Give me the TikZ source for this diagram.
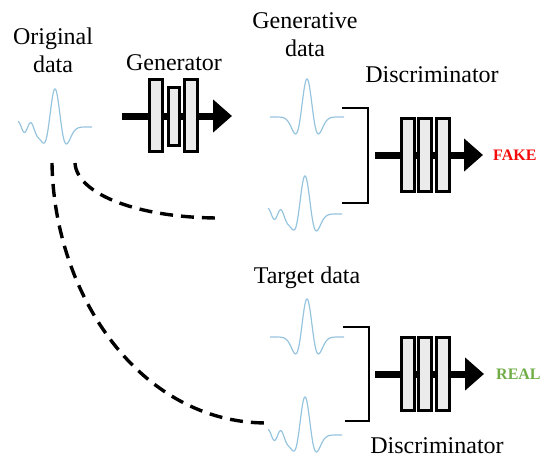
\documentclass[tikz,border=0pt]{standalone}
\usepackage{fontspec}
\setmainfont{Liberation Serif}
\usepackage{xcolor}
\usetikzlibrary{
    arrows.meta,
    positioning
}
\definecolor{wavecol}{RGB}{150,196,222}
\definecolor{fakecol}{RGB}{245,10,10}
\definecolor{realcol}{RGB}{112,173,71}

\begin{document}
\begin{tikzpicture}[x=1pt, y=-1pt,
    layer/.style={draw, line width=3pt, fill=black!8, minimum width=13pt, minimum height=72pt, inner sep=0pt},
    flow/.style={line width=7pt, -{Triangle[length=19pt, width=32pt]}},
    bracket/.style={line width=2.6pt},
    link/.style={line width=3.4pt, dash pattern=on 13pt off 8pt},
    caption/.style={font=\fontsize{24}{28}\selectfont, align=center, anchor=base, inner sep=0pt},
    verdict/.style={font=\fontsize{16}{16}\selectfont\bfseries, inner sep=0pt},
    pics/wave/.style={code={
        \draw[wavecol, line width=1.2pt] plot[domain=-37:37, samples=160, smooth]
            (\x, {-38*(1-(\x/6.6)^2)*exp(-0.5*(\x/6.6)^2) - #1*5.5*cos((\x+37)*27.7)*exp(-((\x+37)/22)^4)});
    }}]
    \useasboundingbox (0,0) rectangle (550,467);
    % labels
    \node[caption] (orig) at (53,72) {Original\\data};
    \node[caption] (gen) at (174,70) {Generator};
    \node[caption] (gendata) at (305,56) {Generative\\data};
    \node[caption] (disc) at (432,82) {Discriminator};
    \node[caption] (target) at (307,283) {Target data};
    \node[caption] (disclow) at (437,453) {Discriminator};
    % signals
    \pic at (55,127) {wave=1};
    \pic at (307,117) {wave=0};
    \pic at (305,214) {wave=1};
    \pic at (307,337) {wave=0};
    \pic at (305,435) {wave=1};
    % generator
    \coordinate (gin) at (122,116);
    \coordinate (gout) at (232,116);
    \draw[flow] (gin) -- (gout);
    \node[layer] (g1) at (155.5,115.5) {};
    \node[layer, minimum height=58pt, minimum width=11pt] (g2) at (174,116.5) {};
    \node[layer] (g3) at (191,115.5) {};
    % discriminator (fake)
    \draw[bracket] (342,108) -| (368,203) -- (342,203);
    \coordinate (din) at (375,155);
    \coordinate (dout) at (483,155);
    \draw[flow] (din) -- (dout);
    \node[layer, minimum height=73pt] (d1) at (408,155) {};
    \node[layer, minimum height=73pt] (d2) at (425,155) {};
    \node[layer, minimum height=73pt] (d3) at (443,155) {};
    \node[verdict, text=fakecol, right=10pt of dout] (fake) {FAKE};
    % discriminator (real)
    \draw[bracket] (343,327) -| (369,421) -- (345,421);
    \coordinate (rin) at (375,374);
    \coordinate (rout) at (484,374);
    \draw[flow] (rin) -- (rout);
    \node[layer, minimum height=73pt] (r1) at (408,374) {};
    \node[layer, minimum height=73pt] (r2) at (425,374) {};
    \node[layer, minimum height=73pt] (r3) at (443,374) {};
    \node[verdict, text=realcol, right=12pt of rout] (real) {REAL};
    % dashed links
    \coordinate (o1) at (75,163);
    \coordinate (o2) at (52,163);
    \coordinate (e1) at (220,218);
    \coordinate (e2) at (267,423);
    \draw[link] (o1) .. controls (77,195) and (140,218) .. (e1);
    \draw[link] (o2) .. controls (54,295) and (140,423) .. (e2);
\end{tikzpicture}
\end{document}
